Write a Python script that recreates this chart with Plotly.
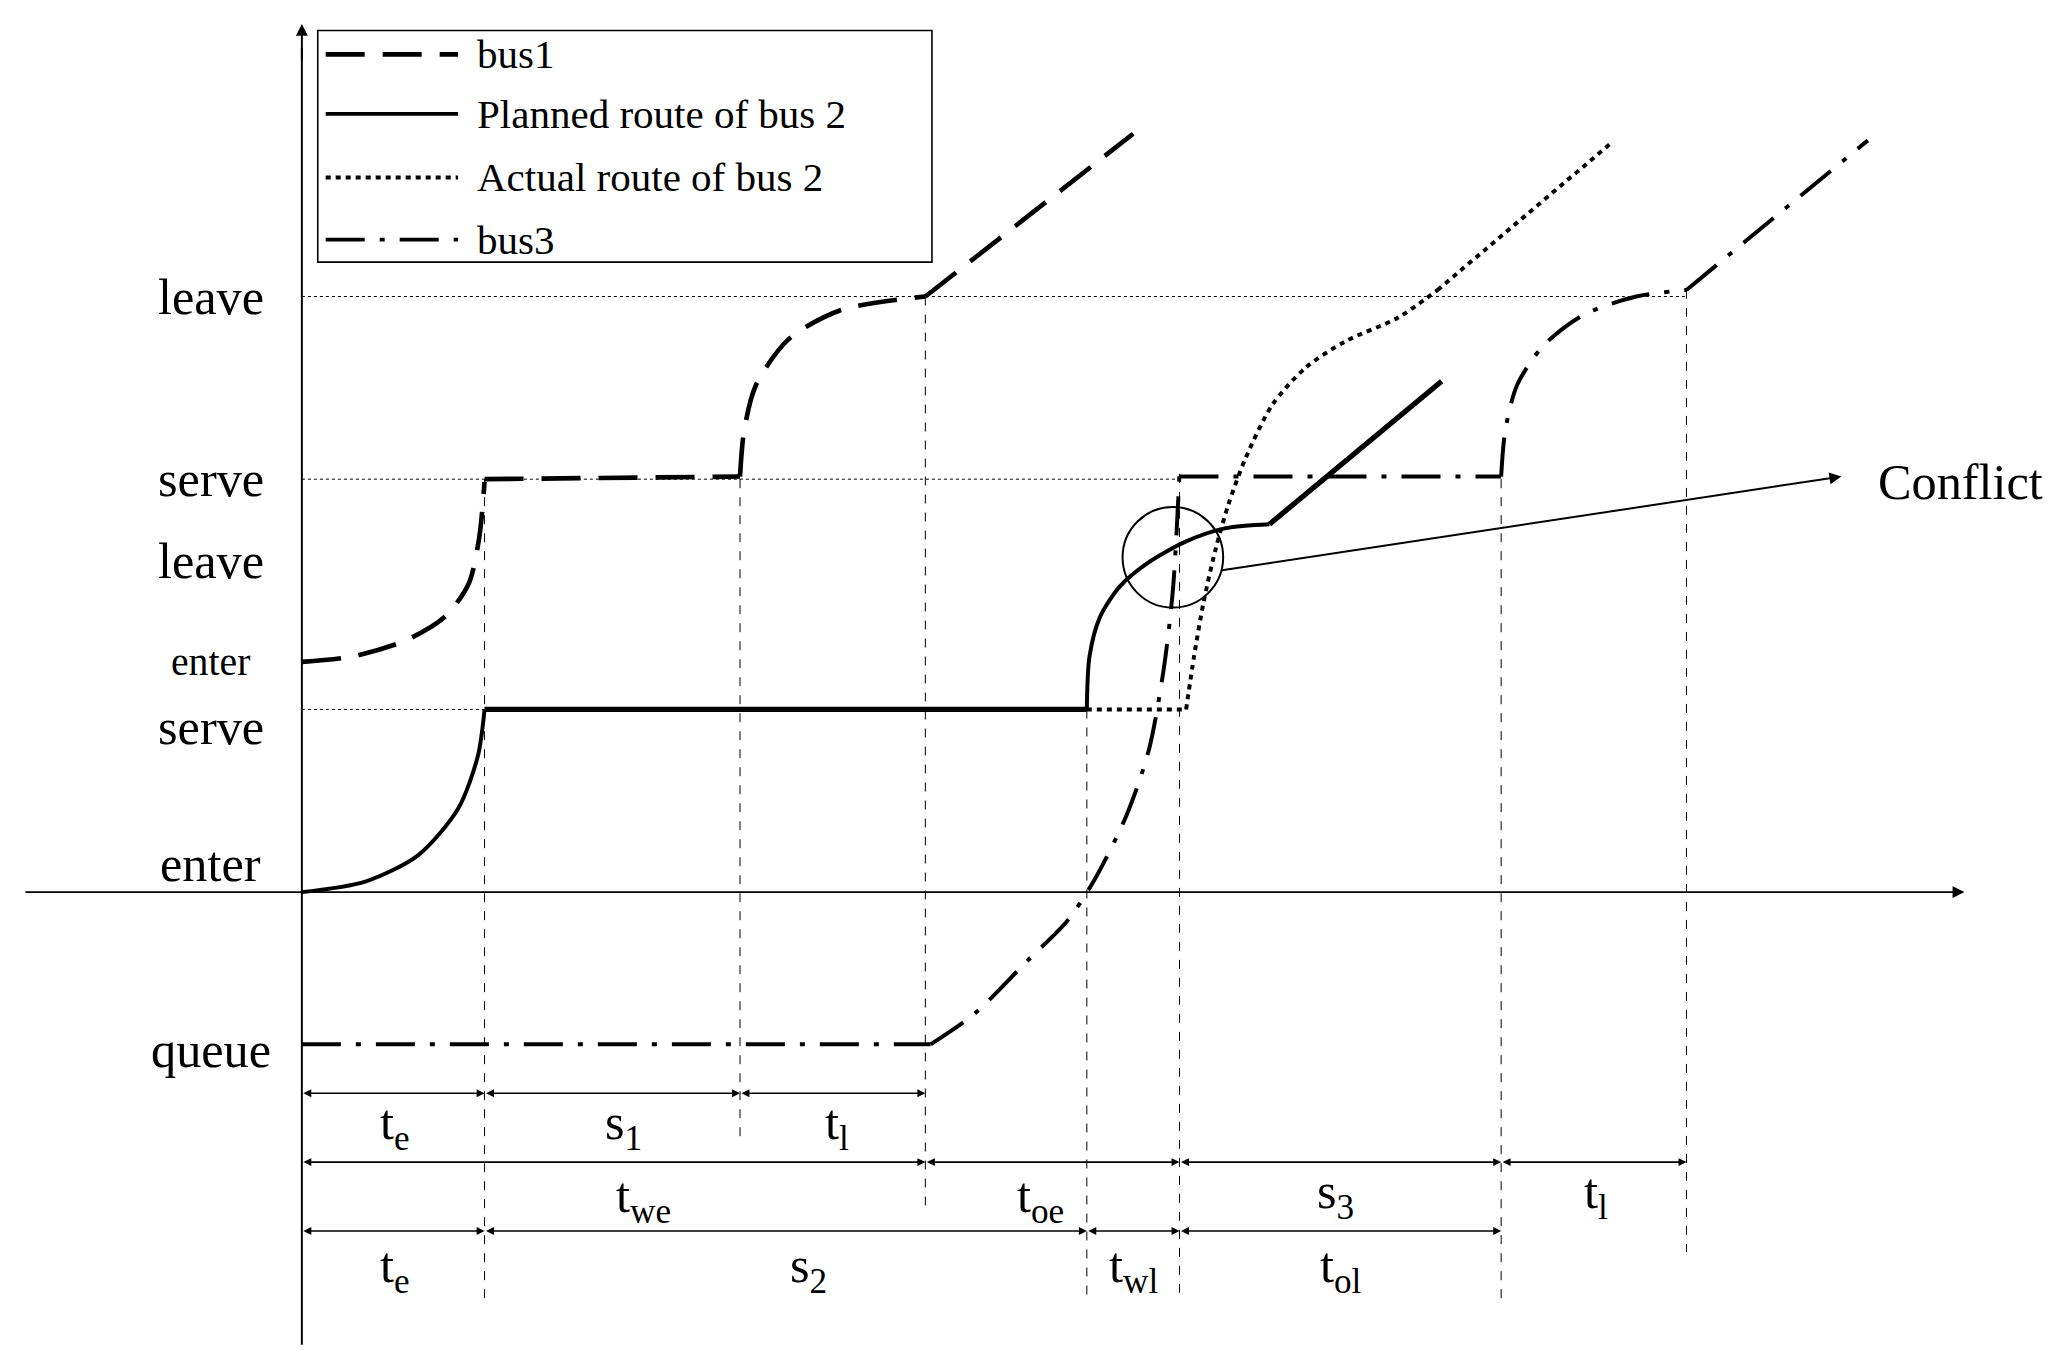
import plotly.graph_objects as go

S = 2065 / 1560  # figure px per sketch unit
FONT = "Liberation Serif, Times New Roman, serif"

# level positions (sketch units, y downwards)
level_names = ["leave", "serve", "leave", "enter", "serve", "enter", "queue"]
label_y = [218, 356, 418, 494, 543, 647, 787]
label_size = [38, 38, 38, 30, 38, 38, 38]

# bus1 (long dash)
bus1_c1_x = [222, 260, 300, 330, 348, 356, 360]
bus1_c1_y = [494, 490, 478, 460, 435, 400, 358]
bus1_l1_x = [360, 553]
bus1_l1_y = [356, 354]
bus1_c2_x = [553, 556, 565, 590, 630, 693]
bus1_c2_y = [354, 320, 285, 250, 228, 218]
bus1_l2_x = [693, 850]
bus1_l2_y = [218, 95]

# planned route of bus 2 (solid)
plan_c1_x = [222, 270, 310, 340, 355, 360]
plan_c1_y = [668, 660, 640, 605, 565, 530]
plan_l1_x = [360, 815]
plan_l1_y = [530, 530]
plan_c2_x = [815, 817, 825, 840, 860, 890, 920, 953]
plan_c2_y = [530, 490, 460, 437, 420, 403, 393, 390]
plan_l2_x = [953, 1083]
plan_l2_y = [390, 282]

# actual route of bus 2 (dotted)
act_l1_x = [815, 890]
act_l1_y = [530, 530]
act_c_x = [890, 896, 903, 912, 922, 935, 955, 980, 1010, 1050, 1080]
act_c_y = [530, 490, 450, 410, 375, 340, 300, 272, 252, 234, 213]
act_l2_x = [1080, 1210]
act_l2_y = [213, 103]

# bus3 (dash-dot)
bus3_l1_x = [222, 697]
bus3_l1_y = [783, 783]
bus3_c1_x = [697, 730, 770, 800, 820, 845, 862, 873, 880, 885]
bus3_c1_y = [783, 760, 720, 690, 660, 610, 560, 500, 440, 352]
bus3_l2_x = [885, 1128]
bus3_l2_y = [354, 354]
bus3_c2_x = [1128, 1131, 1140, 1160, 1190, 1230, 1268]
bus3_c2_y = [354, 320, 285, 255, 232, 218, 213]
bus3_l3_x = [1268, 1405]
bus3_l3_y = [213, 100]

# guide lines
hguide = [(218, 222, 1268), (356, 222, 885), (530, 222, 360)]
vguide = [(360, 356, 975), (553, 356, 855), (693, 218, 908), (815, 530, 975),
          (885, 352, 975), (1128, 356, 975), (1268, 213, 940)]

# dimension rows: (y, x0, x1, label, label_x, label_y)
dims = [
    (820, 222, 360, "t<sub>e</sub>", 292, 845),
    (820, 360, 553, "s<sub>1</sub>", 465, 845),
    (820, 553, 693, "t<sub>l</sub>", 626, 845),
    (872, 222, 693, "t<sub>we</sub>", 480, 900),
    (872, 693, 885, "t<sub>oe</sub>", 780, 900),
    (872, 885, 1128, "s<sub>3</sub>", 1003, 897),
    (872, 1128, 1268, "t<sub>l</sub>", 1200, 897),
    (924, 222, 360, "t<sub>e</sub>", 292, 953),
    (924, 360, 815, "s<sub>2</sub>", 605, 953),
    (924, 815, 885, "t<sub>wl</sub>", 850, 953),
    (924, 885, 1128, "t<sub>ol</sub>", 1007, 953),
]

legend_names = ["bus1", "Planned route of bus 2", "Actual route of bus 2", "bus3"]
legend_y = [35, 80, 128, 175]

styles = {
    "bus1": dict(color="black", width=3.5 * S, dash="%dpx,%dpx" % (30 * S, 14 * S)),
    "plan": dict(color="black", width=3 * S),
    "act": dict(color="black", width=3 * S, dash="%dpx,%dpx" % (4 * S, 4 * S)),
    "bus3": dict(color="black", width=3 * S,
                 dash="%dpx,%dpx,%dpx,%dpx" % (30 * S, 12 * S, 4 * S, 12 * S)),
}

fig = go.Figure()


def add(x, y, style, spline=False, width=None):
    ln = dict(styles[style])
    if width:
        ln["width"] = width * S
    if spline:
        ln["shape"] = "spline"
        ln["smoothing"] = 0.8
    fig.add_trace(go.Scatter(x=x, y=y, mode="lines", line=ln, hoverinfo="skip"))


add(bus1_c1_x, bus1_c1_y, "bus1", True)
add(bus1_l1_x, bus1_l1_y, "bus1")
add(bus1_c2_x, bus1_c2_y, "bus1", True)
add(bus1_l2_x, bus1_l2_y, "bus1")
add(plan_c1_x, plan_c1_y, "plan", True)
add(plan_l1_x, plan_l1_y, "plan", width=4)
add(plan_c2_x, plan_c2_y, "plan", True)
add(plan_l2_x, plan_l2_y, "plan", width=4)
add(act_l1_x, act_l1_y, "act")
add(act_c_x, act_c_y, "act", True)
add(act_l2_x, act_l2_y, "act")
add(bus3_l1_x, bus3_l1_y, "bus3")
add(bus3_c1_x, bus3_c1_y, "bus3", True)
add(bus3_l2_x, bus3_l2_y, "bus3")
add(bus3_c2_x, bus3_c2_y, "bus3", True)
add(bus3_l3_x, bus3_l3_y, "bus3")

# legend drawn by hand
for key, ly in zip(["bus1", "plan", "act", "bus3"], legend_y):
    add([240, 340], [ly, ly], key)

shapes = []
shapes.append(dict(type="rect", x0=234, x1=698, y0=17, y1=192,
                   line=dict(color="black", width=1.2 * S)))
for y, x0, x1 in hguide:
    shapes.append(dict(type="line", x0=x0, x1=x1, y0=y, y1=y,
                       line=dict(color="black", width=1, dash="dot")))
for x, y0, y1 in vguide:
    shapes.append(dict(type="line", x0=x, x1=x, y0=y0, y1=y1,
                       line=dict(color="black", width=1, dash="dash")))
shapes.append(dict(type="line", x0=222, x1=222, y0=1010, y1=30,
                   line=dict(color="black", width=1.5 * S)))
shapes.append(dict(type="circle", x0=842, x1=918, y0=377, y1=453,
                   line=dict(color="black", width=1.5 * S)))


def arrow(x0, y0, x1, y1, both=False, size=1.2, width=1.5):
    a = dict(x=x1, y=y1, ax=x0, ay=y0, xref="x", yref="y", axref="x", ayref="y",
             text="", showarrow=True, arrowhead=2, arrowsize=size,
             arrowwidth=width * S, arrowcolor="black")
    if both:
        a.update(startarrowhead=2, startarrowsize=size, arrowside="end+start")
    return a


ann = [
    arrow(222, 40, 222, 12),
    arrow(12, 668, 1478, 668),
    arrow(916, 425, 1385, 354),
    dict(x=1475, y=358, xref="x", yref="y", text="Conflict", showarrow=False,
         font=dict(family=FONT, size=38 * S, color="black")),
]

for name, y, size in zip(level_names, label_y, label_size):
    ann.append(dict(x=153, y=y, xref="x", yref="y", text=name, showarrow=False,
                    font=dict(family=FONT, size=size * S, color="black")))

for name, ly in zip(legend_names, legend_y):
    ann.append(dict(x=353, y=ly, xref="x", yref="y", text=name, showarrow=False,
                    xanchor="left", font=dict(family=FONT, size=31 * S, color="black")))

for y, x0, x1, lab, lx, lyy in dims:
    ann.append(arrow(x0, y, x1, y, both=True, size=1, width=1.2))
    ann.append(dict(x=lx, y=lyy, xref="x", yref="y", text=lab, showarrow=False,
                    font=dict(family=FONT, size=38 * S, color="black")))

fig.update_layout(
    width=2065, height=1350,
    margin=dict(l=0, r=0, t=0, b=0),
    plot_bgcolor="white", paper_bgcolor="white",
    showlegend=False,
    xaxis=dict(range=[0, 1560], visible=False, fixedrange=True),
    yaxis=dict(range=[1020, 0], visible=False, fixedrange=True),
    shapes=shapes,
    annotations=ann,
)

fig.write_html("out.html")
